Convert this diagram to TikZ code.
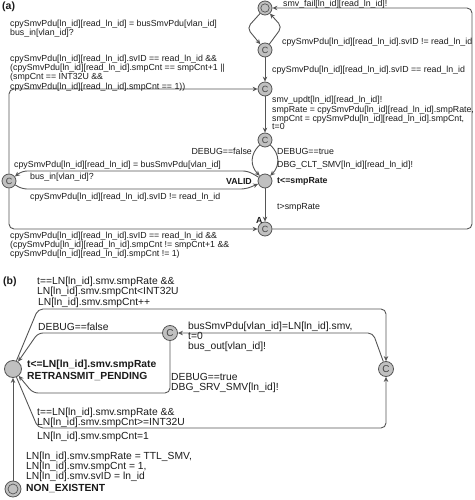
\documentclass[tikz,border=0pt]{standalone}
\usepackage{fontspec}
\setmainfont{Liberation Sans}
\usetikzlibrary{arrows.meta}
\definecolor{linec}{HTML}{555555}
\definecolor{locfill}{HTML}{C0C0C0}
\definecolor{txt}{HTML}{1A1A1A}
\tikzset{
  loc/.style={circle, draw=linec, fill=locfill, line width=0.8pt, minimum size=14pt, inner sep=0pt, text=linec!80!black},
  comm/.style={loc, font=\fontsize{9}{9}\selectfont},
  initloc/.style={loc, path picture={\draw[linec, line width=0.7pt] (path picture bounding box.center) circle (4.2pt);}},
  locb/.style={loc, minimum size=17pt},
  commb/.style={loc, minimum size=15pt, font=\fontsize{10}{10}\selectfont},
  initlocb/.style={loc, minimum size=16pt, path picture={\draw[linec, line width=0.7pt] (path picture bounding box.center) circle (5pt);}},
  e/.style={draw=linec, line width=0.9pt, rounded corners=5pt, -{Stealth[length=5pt,width=4.5pt]}},
  la/.style={anchor=west, inner sep=0pt, align=left, text=txt, font=\fontsize{8.8}{8}\selectfont},
  lab/.style={la, font=\fontsize{8.8}{8}\selectfont\bfseries},
  lb/.style={anchor=west, inner sep=0pt, align=left, text=txt, font=\fontsize{10.3}{10}\selectfont},
  lbb/.style={lb, font=\fontsize{10.3}{10}\selectfont\bfseries},
  tag/.style={anchor=west, inner sep=0pt, text=txt, font=\fontsize{10.5}{10.5}\selectfont\bfseries}
}
\begin{document}
\begin{tikzpicture}[x=1pt,y=-1pt]
\useasboundingbox (0,0) rectangle (474,500);
% ---------------- (a) ----------------
\node[tag] (ta) at (2,7) {(a)};
\node[initloc] (i0) at (265,8) {};
\node[comm] (c1) at (265,50) {C};
\node[comm] (c2) at (265,89) {C};
\node[comm] (c3) at (265,140) {C};
\node[loc] (valid) at (265,181) {};
\node[comm] (ca) at (265,229) {C};
\node[comm] (cl) at (9,181) {C};

\coordinate (d1) at (247,28);
\coordinate (d2) at (282,27);
\coordinate (k1) at (9,89);
\coordinate (k2) at (9,229);
\coordinate (r1) at (472,229);
\coordinate (r2) at (472,8);
\coordinate (u1) at (248,171);
\coordinate (u2) at (22,171);
\coordinate (w1) at (22,189);
\coordinate (w2) at (246,189);

\draw[e] (i0) -- (d1) -- (c1);
\draw[e] (c1) -- (d2) -- (i0);
\draw[e] (c1) -- (c2);
\draw[e] (cl) -- (k1) -- (c2);
\draw[e] (c2) -- (c3);
\draw[e] (c3) .. controls (250,154) and (250,166) .. (valid);
\draw[e] (c3) .. controls (280,154) and (280,166) .. (valid);
\draw[e] (valid) -- (u1) -- (u2) -- (cl);
\draw[e] (cl) -- (w1) -- (w2) -- (valid);
\draw[e] (valid) -- (ca);
\draw[e] (cl) -- (k2) -- (ca);
\draw[e] (ca) -- (r1) -- (r2) -- (i0);

\node[la] (a1) at (10,29) {cpySmvPdu[ln\_id][read\_ln\_id] = busSmvPdu[vlan\_id]\\bus\_in[vlan\_id]?};
\node[la] (a2) at (10,73) {cpySmvPdu[ln\_id][read\_ln\_id].svID == read\_ln\_id \&\&\\(cpySmvPdu[ln\_id][read\_ln\_id].smpCnt == smpCnt+1 ||\\(smpCnt == INT32U \&\&\\cpySmvPdu[ln\_id][read\_ln\_id].smpCnt == 1))};
\node[la] (a3) at (283,4) {smv\_fail[ln\_id][read\_ln\_id]!};
\node[la] (a4) at (282,42) {cpySmvPdu[ln\_id][read\_ln\_id].svID != read\_ln\_id};
\node[la] (a5) at (272,70) {cpySmvPdu[ln\_id][read\_ln\_id].svID == read\_ln\_id};
\node[la] (a6) at (272,113) {smv\_updt[ln\_id][read\_ln\_id]!\\smpRate = cpySmvPdu[ln\_id][read\_ln\_id].smpRate,\\smpCnt = cpySmvPdu[ln\_id][read\_ln\_id].smpCnt,\\t=0};
\node[la, anchor=east] (a7) at (252,151) {DEBUG==false};
\node[la] (a8) at (277,151) {DEBUG==true};
\node[la] (a9) at (277,165) {DBG\_CLT\_SMV[ln\_id][read\_ln\_id]!};
\node[lab, anchor=east] (a10) at (252,181) {VALID};
\node[lab] (a11) at (277,181) {t<=smpRate};
\node[la] (a12) at (14,165) {cpySmvPdu[ln\_id][read\_ln\_id] = busSmvPdu[vlan\_id]};
\node[la] (a13) at (30,177) {bus\_in[vlan\_id]?};
\node[la] (a14) at (30,197) {cpySmvPdu[ln\_id][read\_ln\_id].svID != read\_ln\_id};
\node[la] (a15) at (277,207) {t>smpRate};
\node[lab] (a16) at (256,220) {A};
\node[la] (a17) at (10,245) {cpySmvPdu[ln\_id][read\_ln\_id].svID == read\_ln\_id \&\&\\(cpySmvPdu[ln\_id][read\_ln\_id].smpCnt != smpCnt+1 \&\&\\cpySmvPdu[ln\_id][read\_ln\_id].smpCnt != 1)};

% ---------------- (b) ----------------
\node[tag] (tb) at (3,282) {(b)};
\node[initlocb] (ne) at (13,489) {};
\node[locb] (rp) at (13,369) {};
\node[commb] (cm) at (170,333) {C};
\node[commb] (cr) at (386,369) {C};

\coordinate (p1) at (38,309);
\coordinate (p2) at (386,309);
\coordinate (q1) at (373,333);
\coordinate (q2) at (38,333);
\coordinate (s1) at (170,393);
\coordinate (s2) at (33,393);
\coordinate (t1) at (38,428);
\coordinate (t2) at (386,428);

\draw[e] (ne) -- (rp);
\draw[e] (rp) -- (p1) -- (p2) -- (cr);
\draw[e] (cr) -- (q1) -- (cm);
\draw[e] (cm) -- (q2) -- (rp);
\draw[e] (cm) -- (s1) -- (s2) -- (rp);
\draw[e] (rp) -- (t1) -- (t2) -- (cr);

\node[lb] (b1) at (37,287) {t==LN[ln\_id].smv.smpRate \&\&\\LN[ln\_id].smv.smpCnt<INT32U};
\node[lb] (b2) at (38,303) {LN[ln\_id].smv.smpCnt++};
\node[lb] (b3) at (38,327) {DEBUG==false};
\node[lb] (b4) at (188,337) {busSmvPdu[vlan\_id]=LN[ln\_id].smv,\\t=0\\bus\_out[vlan\_id]!};
\node[lbb] (b7) at (27,365) {t<=LN[ln\_id].smv.smpRate};
\node[lbb] (b8) at (27,377) {RETRANSMIT\_PENDING};
\node[lb] (b9) at (171,382.5) {DEBUG==true\\DBG\_SRV\_SMV[ln\_id]!};
\node[lb] (b10) at (37,418) {t==LN[ln\_id].smv.smpRate \&\&\\LN[ln\_id].smv.smpCnt>=INT32U};
\node[lb] (b11) at (37,437) {LN[ln\_id].smv.smpCnt=1};
\node[lb] (b12) at (26,466.5) {LN[ln\_id].smv.smpRate = TTL\_SMV,\\LN[ln\_id].smv.smpCnt = 1,\\LN[ln\_id].smv.svID = ln\_id};
\node[lbb] (b13) at (26,489) {NON\_EXISTENT};
\end{tikzpicture}
\end{document}
